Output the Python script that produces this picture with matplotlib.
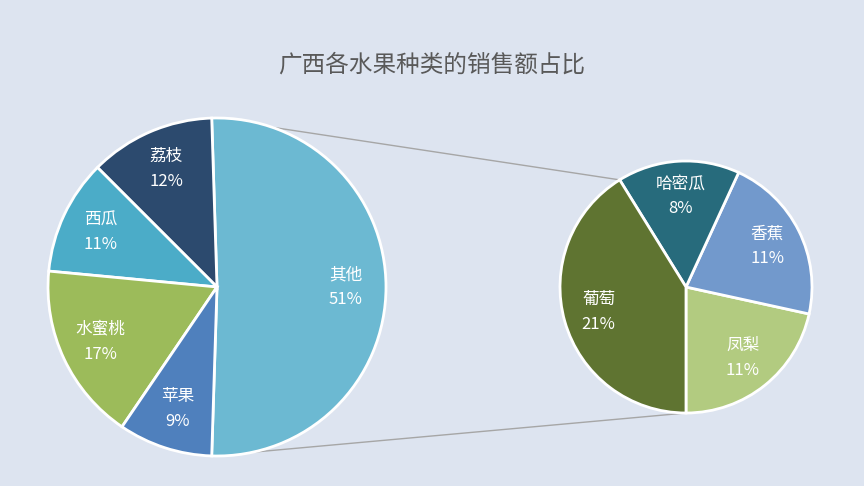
import matplotlib
matplotlib.use("Agg")
import matplotlib.pyplot as plt
import numpy as np

plt.rcParams['font.family'] = ['Noto Sans CJK SC', 'DejaVu Sans']

title = "广西各水果种类的销售额占比"
main_labels = ["其他", "荔枝", "西瓜", "水蜜桃", "苹果"]
main_values = [51, 12, 11, 17, 9]
main_colors = ["#6cb9d2", "#2c4a6e", "#4bacc8", "#9cbb5a", "#4f80bd"]
sub_labels = ["凤梨", "香蕉", "哈密瓜", "葡萄"]
sub_values = [11, 11, 8, 21]
sub_colors = ["#b2cb80", "#7299cc", "#276b7c", "#5f7431"]

H = 486
fig = plt.figure(figsize=(8.64, 4.86), dpi=100, facecolor="#dde4f0")
ax = fig.add_axes([0, 0, 1, 1])
ax.set_facecolor("#dde4f0")

lc, lr = (217, H - 287), 169
rc, rr = (686, H - 287), 126

start_main = -main_values[0] / 100 * 360 / 2
ax.pie(main_values, colors=main_colors, center=lc, radius=lr, startangle=start_main,
       counterclock=True, wedgeprops=dict(edgecolor="white", linewidth=2), frame=True)
ax.pie(sub_values, colors=sub_colors, center=rc, radius=rr, startangle=-90,
       counterclock=True, wedgeprops=dict(edgecolor="white", linewidth=2), frame=True)

def labels(vals, labs, center, r, start, total, dist):
    a0 = start
    for v, l in zip(vals, labs):
        span = v / total * 360
        mid = np.radians(a0 + span / 2)
        x = center[0] + dist * r * np.cos(mid)
        y = center[1] + dist * r * np.sin(mid)
        ax.text(x, y, f"{l}\n{v}%", color="white", ha="center", va="center",
                fontsize=12, linespacing=1.6)
        a0 += span

labels(main_values, main_labels, lc, lr, start_main, sum(main_values), 0.76)
labels(sub_values, sub_labels, rc, rr, -90, sum(sub_values), 0.72)

# connector lines
a_top = np.radians(-start_main)
a_bot = np.radians(start_main)
sub_top = np.radians(-90 + sum(sub_values[:3]) / sum(sub_values) * 360)
sub_bot = np.radians(-90)
for a1, a2 in [(a_top, sub_top), (a_bot, sub_bot)]:
    ax.plot([lc[0] + lr * np.cos(a1), rc[0] + rr * np.cos(a2)],
            [lc[1] + lr * np.sin(a1), rc[1] + rr * np.sin(a2)],
            color="#a6a6a6", lw=1, zorder=0)

ax.text(432, H - 65, title, ha="center", va="center", fontsize=17, color="#595959")

ax.set_xlim(0, 864)
ax.set_ylim(0, H)
ax.set_aspect("auto")
ax.axis("off")
fig.savefig("out.png", dpi=100, facecolor=fig.get_facecolor())
